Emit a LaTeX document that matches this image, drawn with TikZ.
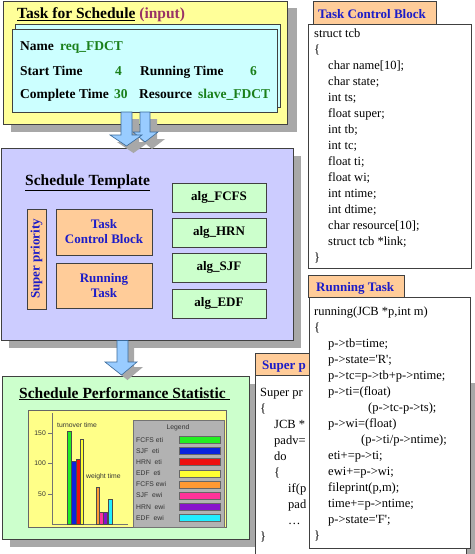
\documentclass[tikz,border=0pt]{standalone}
\usepackage{fontspec}
\setmainfont{Liberation Serif}
\newfontfamily\codefont{Liberation Serif}[Ligatures=TeXOff]
\newfontfamily\chartfont{Liberation Sans}
\definecolor{yellowbg}{HTML}{FFFF99}
\definecolor{cyanbg}{HTML}{CCFFFF}
\definecolor{lavbg}{HTML}{CCCCFF}
\definecolor{greenbg}{HTML}{CCFFCC}
\definecolor{orangebg}{HTML}{FFCC99}
\definecolor{shadowc}{HTML}{A8A8A8}
\definecolor{bluetxt}{HTML}{1C1CC8}
\definecolor{greentxt}{HTML}{1A7F1A}
\definecolor{purpletxt}{HTML}{993366}
\definecolor{arrowfill}{HTML}{99CCFF}
\definecolor{arrowline}{HTML}{3A6A9A}
\definecolor{chartbg}{HTML}{FFFF88}
\definecolor{legbg}{HTML}{B2B2B2}
\definecolor{cGreen}{HTML}{22EE22}
\definecolor{cBlue}{HTML}{0A22DD}
\definecolor{cRed}{HTML}{EE1111}
\definecolor{cYellow}{HTML}{FFFF33}
\definecolor{cOrange}{HTML}{FF9933}
\definecolor{cPink}{HTML}{FF3399}
\definecolor{cPurple}{HTML}{8811CC}
\definecolor{cCyan}{HTML}{22EEFF}
\newcommand\rbox[6]{\node[rectangle, inner sep=0pt, outer sep=0pt, anchor=north west, minimum width={(#4)-(#2)}, minimum height={(#5)-(#3)}, #6] (#1) at (#2,#3) {};}
\tikzset{
  panel/.style={draw=black!75, line width=0.6pt},
  titletxt/.style={font=\bfseries\fontsize{15.5}{18}\selectfont, anchor=base west, inner sep=0pt},
  lbl/.style={font=\bfseries\fontsize{13.5}{16}\selectfont, anchor=base west, inner sep=0pt},
  val/.style={lbl, text=greentxt},
  tab/.style={font=\bfseries\fontsize{13}{15}\selectfont, text=bluetxt, anchor=base west, inner sep=0pt},
  boxtxt/.style={font=\bfseries\fontsize{13}{15}\selectfont, align=center, inner sep=0pt},
  codetxt/.style={font=\codefont\fontsize{12.5}{15}\selectfont, anchor=base west, inner sep=0pt},
  chtxt/.style={font=\chartfont\fontsize{6.8}{7}\selectfont, text=black!80, inner sep=0pt},
  blockarrow/.style={fill=arrowfill, draw=arrowline, line width=0.6pt, line join=miter},
  arrowshadow/.style={fill=shadowc, draw=none},
}
\begin{document}
\begin{tikzpicture}[x=1pt, y=-1pt]
\useasboundingbox (0,0) rectangle (474,554);
\fill[white] (0,0) rectangle (474,554);

% ---------- Task for Schedule (input) ----------
\fill[shadowc] (11,8) rectangle (297,132);
\rbox{inbox}{3}{1}{287}{124}{panel, fill=yellowbg}
\node[titletxt] (intitle) at (17,19) {\underline{Task for Schedule}\ \textcolor{purpletxt}{(input)}};
\rbox{cardback}{15}{24}{280}{107}{panel, fill=cyanbg}
\rbox{card}{12}{29}{277}{112}{panel, fill=cyanbg}
\node[lbl] (nm) at (20,50) {Name};
\node[val] (nmv) at (60,50) {req\_FDCT};
\node[lbl] (st) at (20,75) {Start Time};
\node[val] (stv) at (115,75) {4};
\node[lbl] (rt) at (140,75) {Running Time};
\node[val] (rtv) at (250,75) {6};
\node[lbl] (ct) at (20,98) {Complete Time};
\node[val] (ctv) at (114,98) {30};
\node[lbl] (rs) at (139,98) {Resource};
\node[val] (rsv) at (198,98) {slave\_FDCT};

% ---------- Schedule Template ----------
\fill[shadowc] (9,156) rectangle (301,348);
\rbox{tmpl}{1}{148}{293}{340}{panel, fill=lavbg}
\node[titletxt] (tmpltitle) at (25,185) {\underline{Schedule Template}};
\rbox{sp}{27}{209}{46}{309}{panel, fill=orangebg}
\node[boxtxt, rotate=90, text=bluetxt] (sptxt) at (sp.center) {Super priority};
\rbox{tcbbox}{56}{209}{152}{255}{panel, fill=orangebg}
\node[boxtxt, text=bluetxt] (tcbtxt) at (tcbbox.center) {Task\\Control Block};
\rbox{rtbox}{56}{263}{152}{308}{panel, fill=orangebg}
\node[boxtxt, text=bluetxt] (rttxt) at (rtbox.center) {Running\\Task};
\rbox{fcfs}{172}{183}{266}{212}{panel, fill=greenbg}
\node[boxtxt] (fcfst) at (fcfs.center) {alg\_FCFS};
\rbox{hrn}{172}{218}{266}{247}{panel, fill=greenbg}
\node[boxtxt] (hrnt) at (hrn.center) {alg\_HRN};
\rbox{sjf}{172}{253}{266}{282}{panel, fill=greenbg}
\node[boxtxt] (sjft) at (sjf.center) {alg\_SJF};
\rbox{edf}{172}{289}{266}{318}{panel, fill=greenbg}
\node[boxtxt] (edft) at (edf.center) {alg\_EDF};

% ---------- arrows top -> template ----------
\fill[arrowshadow] (147,119) -- (157,119) -- (157,139) -- (165,139) -- (152,149) -- (140,139) -- (147,139) -- cycle;
\fill[arrowshadow] (128,119) -- (139,119) -- (139,142) -- (149,142) -- (133.5,153) -- (117,142) -- (128,142) -- cycle;
\draw[blockarrow] (140,112) -- (150,112) -- (150,132) -- (158,132) -- (145,142) -- (133,132) -- (140,132) -- cycle;
\draw[blockarrow] (121,112) -- (132,112) -- (132,135) -- (142,135) -- (126.5,146) -- (110,135) -- (121,135) -- cycle;

% ---------- Schedule Performance Statistic ----------
\fill[shadowc] (10,384) rectangle (258,547);
\rbox{perf}{2}{376}{249}{539}{panel, fill=greenbg}
\node[titletxt] (perftitle) at (19,398) {\underline{Schedule Performance Statistic\ }};
\rbox{chart}{28}{410}{226}{527}{draw=black!60, line width=0.6pt, fill=chartbg}
\draw[black!55, line width=0.6pt] (52,413) -- (52,524) -- (128,524);
\foreach \v/\yy in {150/433, 100/463, 50/494}{
  \draw[black!55, line width=0.6pt] (48,\yy) -- (52,\yy);
  \node[chtxt, anchor=east] (tick\v) at (46,\yy) {\v};
}
\foreach \xa/\xb/\yt/\cc in {67/71/431/cGreen, 71/76/461/cBlue, 76/80/459/cRed, 80/83.5/439/cYellow, 96/99.5/487/cOrange, 99.5/103/512/cPink, 103/107/512/cPurple, 108/112/499/cCyan}{
  \filldraw[fill=\cc, draw=black!70, line width=0.4pt] (\xa,524) rectangle (\xb,\yt);
}
\node[chtxt, anchor=west] (turn) at (57,425) {turnover time};
\node[chtxt, anchor=west] (weight) at (86,477) {weight time};
\rbox{legend}{133}{420}{224}{527}{draw=black!55, line width=0.6pt, fill=legbg}
\node[chtxt] (legtitle) at (178,428) {Legend};
\foreach \lab/\cc [count=\i from 0] in {FCFS eti/cGreen, SJF\ \ eti/cBlue, HRN\ \ eti/cRed, EDF\ \ eti/cYellow, FCFS ewi/cOrange, SJF\ \ ewi/cPink, HRN\ \ ewi/cPurple, EDF\ \ ewi/cCyan}{
  \pgfmathsetmacro{\yc}{440+11.1*\i}
  \node[chtxt, anchor=west] (leg\i) at (136,\yc) {\lab};
  \filldraw[fill=\cc, draw=black!60, line width=0.5pt] (179,\yc-3.5) rectangle (220,\yc+3.5);
}

% ---------- arrow template -> performance ----------
\fill[arrowshadow] (123,345) -- (134,345) -- (134,367) -- (143,367) -- (127.5,380) -- (111,367) -- (123,367) -- cycle;
\draw[blockarrow] (117,340.5) -- (128,340.5) -- (128,362) -- (137,362) -- (121.5,375) -- (105,362) -- (117,362) -- cycle;

% ---------- Task Control Block panel ----------
\rbox{tcbtab}{313}{1}{436}{24}{panel, fill=orangebg}
\node[tab] (tcbtabt) at (318,18) {Task Control Block};
\rbox{tcbcode}{308}{24}{471}{268}{panel, fill=white}
\foreach \t/\xx [count=\i from 0] in {struct tcb/314, \{/314, char name[10];/328, char state;/328, int ts;/328, float super;/328, int tb;/328, int tc;/328, float ti;/328, float wi;/328, int ntime;/328, int dtime;/328, char resource[10];/328, struct tcb *link;/328, \}/314}{
  \node[codetxt] (tcbl\i) at (\xx,37+16.07*\i) {\t};
}

% ---------- Super priority panel (behind) ----------
\fill[shadowc] (263,383) rectangle (478,560);
\rbox{suptab}{255}{353}{360}{375}{panel, fill=orangebg}
\rbox{supcode}{255}{375}{466}{560}{panel, fill=white}
\begin{scope}
\clip (250,340) rectangle (309,560);
\node[tab] (suptabt) at (262,369) {Super p};
\foreach \t/\xx [count=\i from 0] in {Super pr/260, \{/260, JCB */274, padv=/274, do/274, \{/274, if(p/288, pad/288, \ldots/288, \}/260}{
  \node[codetxt] (supl\i) at (\xx,396+16.1*\i) {\t};
}
\end{scope}

% ---------- Running Task panel ----------
\rbox{runtab}{308}{275}{404}{297}{panel, fill=orangebg}
\node[tab] (runtabt) at (316,291) {Running Task};
\rbox{runcode}{309}{297}{470}{548}{panel, fill=white}
\foreach \t/\xx [count=\i from 0] in {{running(JCB *p,int m)}/314, \{/314, {p->tb=time;}/328, {p->state='R';}/328, {p->tc=p->tb+p->ntime;}/328, {p->ti=(float)}/328, {(p->tc-p->ts);}/368, {p->wi=(float)}/328, {(p->ti/p->ntime);}/361, {eti+=p->ti;}/328, {ewi+=p->wi;}/328, {fileprint(p,m);}/328, {time+=p->ntime;}/328, {p->state='F';}/328, \}/314}{
  \node[codetxt] (runl\i) at (\xx,315+16.07*\i) {\t};
}
\end{tikzpicture}
\end{document}
